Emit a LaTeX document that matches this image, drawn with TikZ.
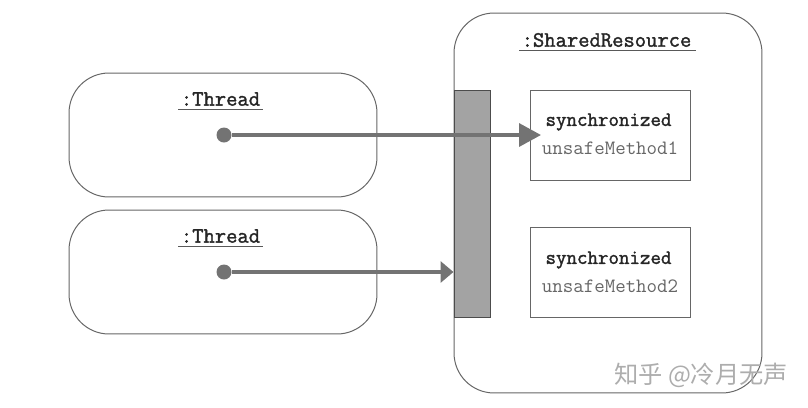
\documentclass[tikz,border=0pt]{standalone}
\usepackage{fontspec}
\newfontfamily\cjkfont{Noto Sans CJK SC}
\newfontfamily\headfont[FakeBold=1.6]{Latin Modern Mono}
\usetikzlibrary{arrows.meta}
\tikzset{
	objbox/.style={draw=black!60, line width=0.2mm, rounded corners=0.8cm, minimum width=6.16cm, inner sep=0pt},
	methodbox/.style={draw=black!60, line width=0.2mm, minimum width=3.22cm, minimum height=1.8cm, inner sep=0pt},
	guardbar/.style={draw=black!70, line width=0.2mm, fill=black!36, minimum width=0.72cm, minimum height=4.56cm, inner sep=0pt},
	titletext/.style={font=\headfont\fontsize{12.5}{14}\selectfont, text=black!85, inner sep=0pt},
	syncline/.style={font=\headfont\fontsize{11.6}{14}\selectfont, text=black!85, inner sep=0pt},
	nameline/.style={font=\ttfamily\fontsize{11.6}{14}\selectfont, text=black!60, inner sep=0pt},
	rule/.style={draw=black!65, line width=0.2mm},
	startdot/.style={circle, fill=black!55, minimum size=0.3cm, inner sep=0pt, outer sep=0pt},
	callline/.style={draw=black!55, line width=0.7mm}
}
\begin{document}
\begin{tikzpicture}[x=0.02cm, y=-0.02cm]
	%%%%% START %%%%%
	\useasboundingbox (0, 0) rectangle (808, 407);

	\node[objbox, minimum height=2.48cm] (thread1) at (223, 135) {};
	\node[objbox, minimum height=2.48cm] (thread2) at (223, 272) {};
	\node[objbox, minimum height=7.6cm] (shared) at (608, 203) {};

	\node[guardbar] (guard) at (472, 204) {};
	\node[methodbox] (method1) at (610.5, 135) {};
	\node[methodbox] (method2) at (610.5, 272.5) {};

	\node[titletext] (title1) at (220.5, 99) {:Thread};
	\node[titletext] (title2) at (220.5, 236) {:Thread};
	\node[titletext] (title3) at (606.5, 40) {:SharedResource};
	\draw[rule] (178, 109) -- (263, 109);
	\draw[rule] (178, 246) -- (263, 246);
	\draw[rule] (519, 50) -- (696, 50);

	\node[syncline] (sync1) at (608.5, 122) {synchronized};
	\node[nameline] (name1) at (610, 148) {unsafeMethod1};
	\node[syncline] (sync2) at (608.5, 260) {synchronized};
	\node[nameline] (name2) at (610, 286) {unsafeMethod2};

	\node[startdot] (dot1) at (224, 135) {};
	\node[startdot] (dot2) at (224, 272) {};
	\coordinate (tip1) at (541, 135);

	\draw[callline, -{Triangle[length=0.44cm, width=0.46cm]}] (dot1) -- (tip1);
	\draw[callline, -{Triangle[length=0.26cm, width=0.42cm]}] (dot2) -- (dot2 -| guard.west);

	\node[font=\cjkfont\fontsize{13.8}{16}\selectfont, text=black!32, inner sep=0pt] (mark) at (701, 375) {知乎 @冷月无声};
	%%%%% END %%%%%
\end{tikzpicture}
\end{document}
